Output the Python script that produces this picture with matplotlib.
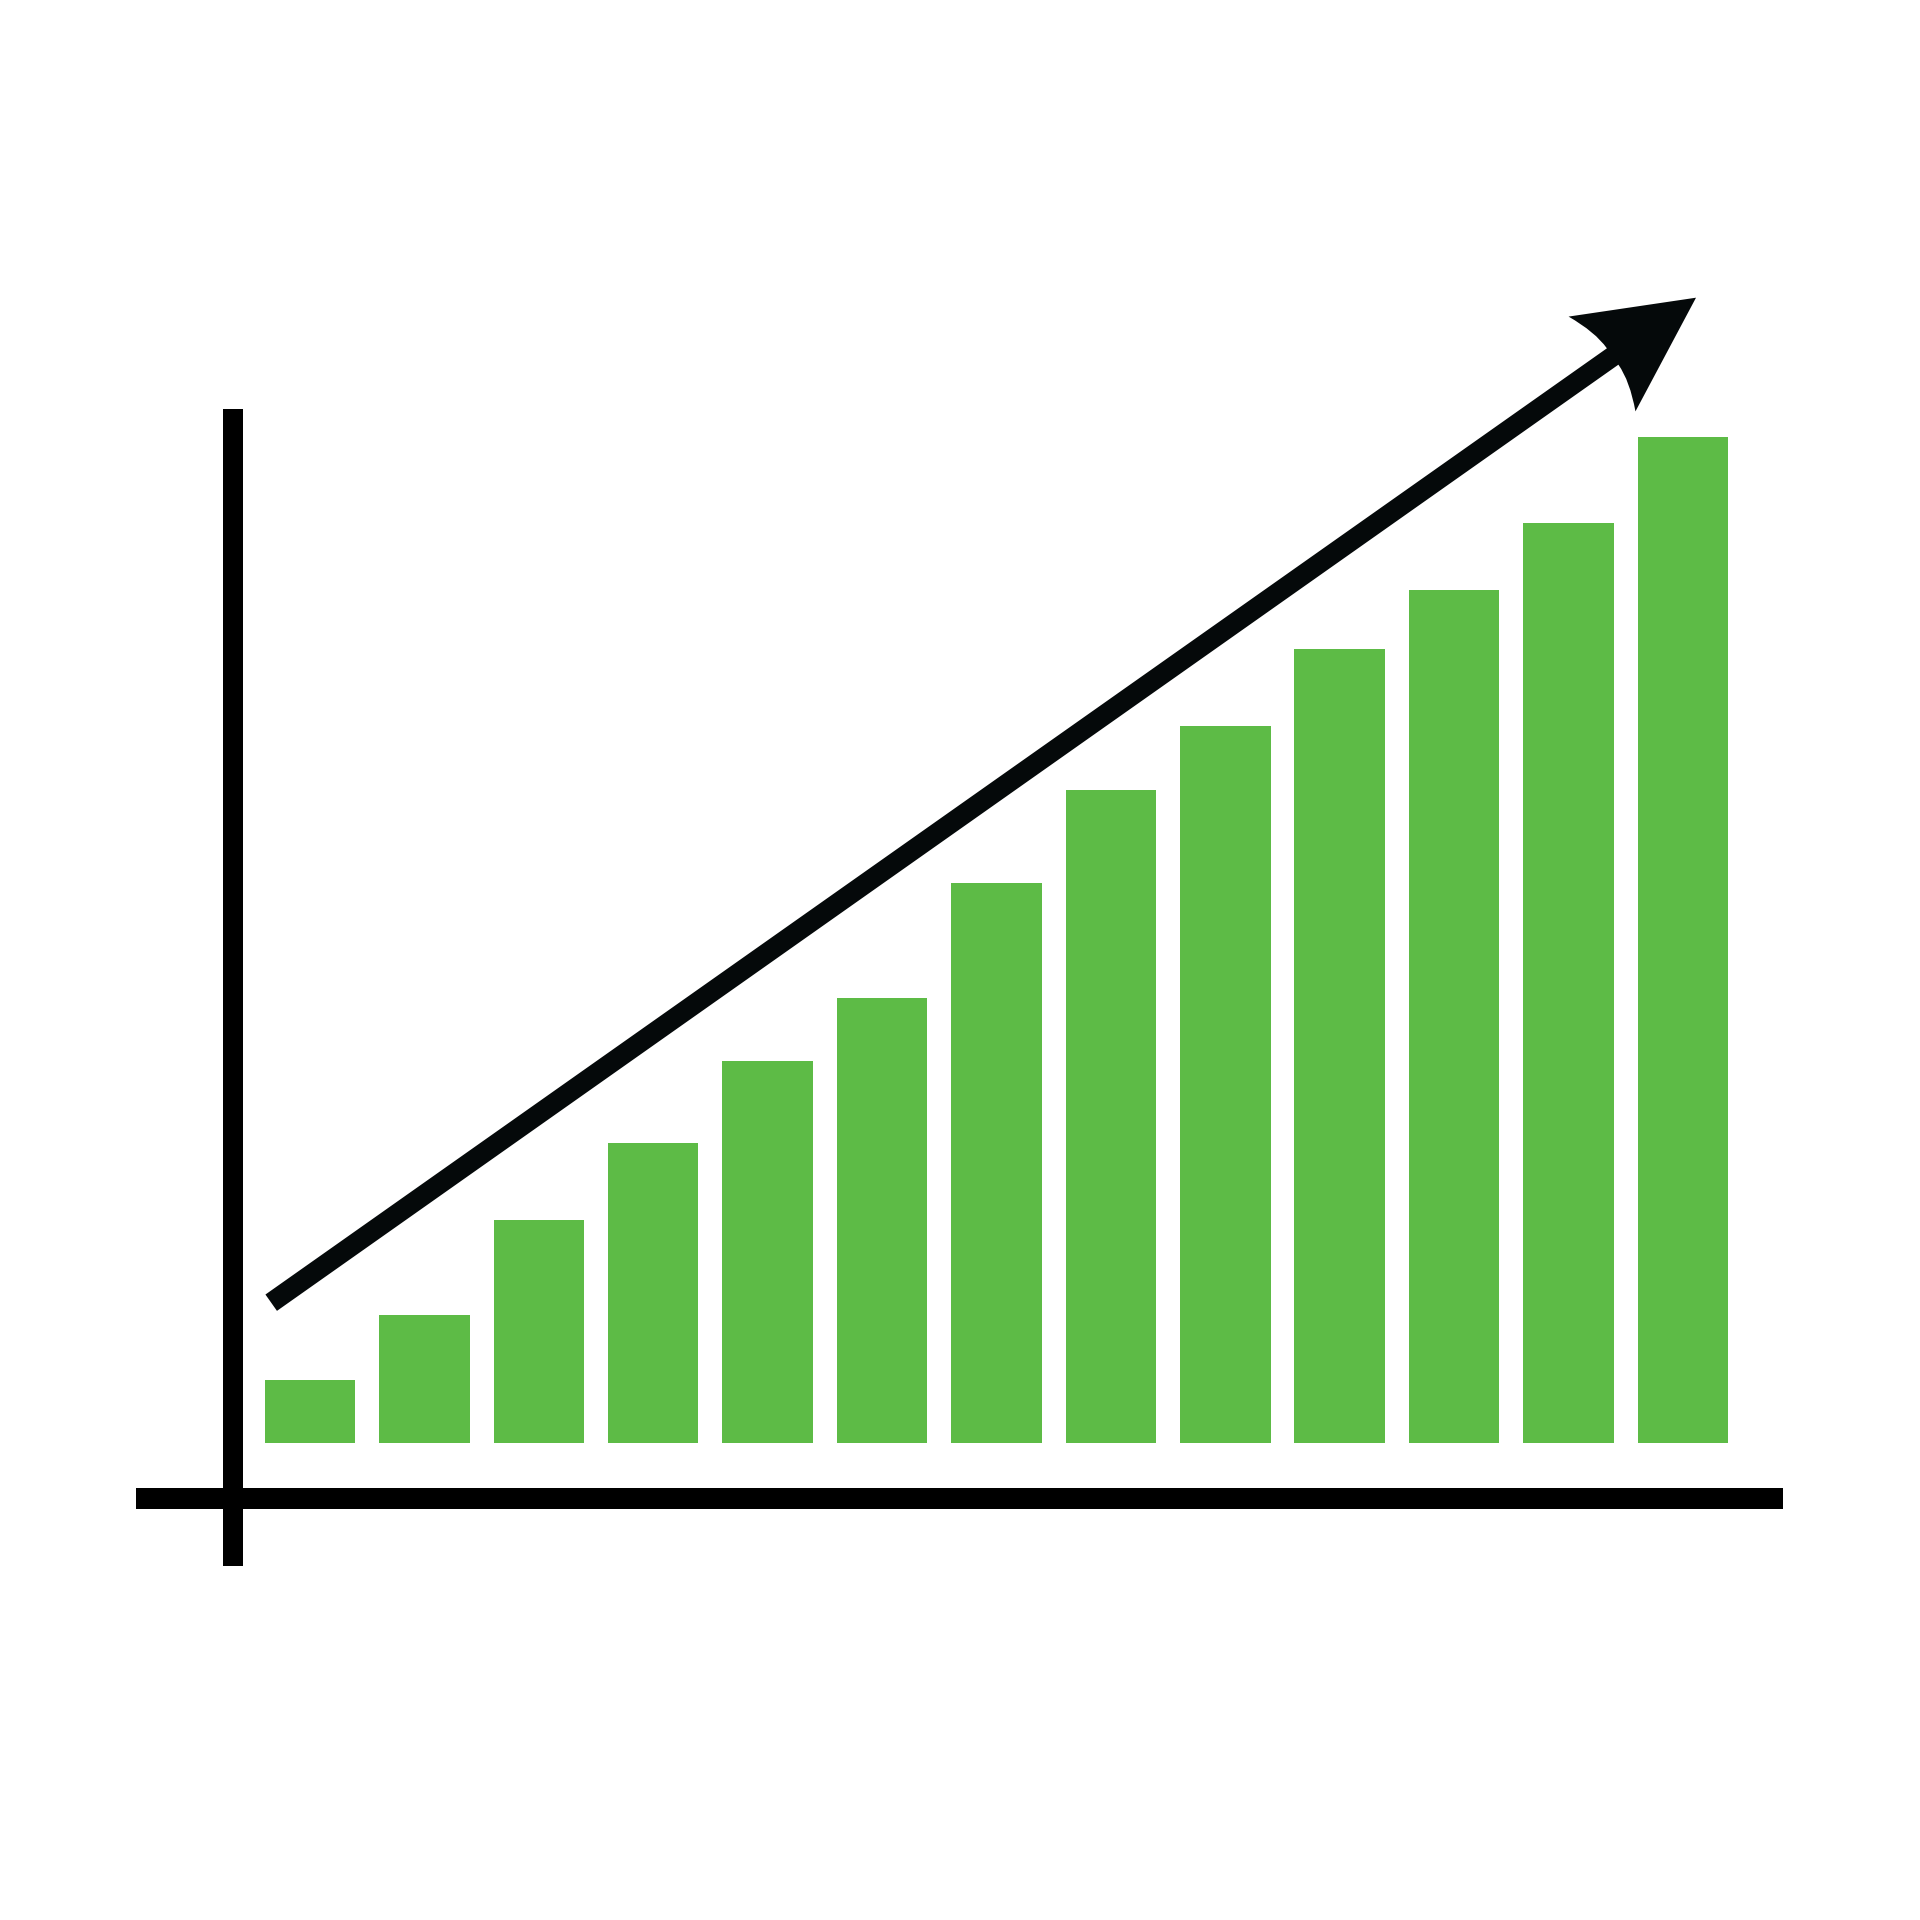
import numpy as np
import matplotlib.pyplot as plt
from matplotlib.patches import Rectangle, PathPatch
from matplotlib.path import Path

# bar heights (arbitrary units), left to right
periods = list(range(1, 14))
values = [6.3, 12.8, 22.3, 30.0, 38.2, 44.5, 56.0, 65.3, 71.7, 79.4, 85.3, 92.0, 100.6]

GREEN = '#5dbb46'
ARROW = '#05090a'
W = H = 1920

fig = plt.figure(figsize=(19.2, 19.2), dpi=100)
fig.patch.set_facecolor('white')

# bars axes, placed in figure pixel space
left, right, base, top = 252.7, 1740.2, 1443.3, 400.0
ax = fig.add_axes([left / W, (H - base) / H, (right - left) / W, (base - top) / H])
ax.bar(np.arange(len(values)), values, width=0.791, color=GREEN, linewidth=0)
ax.set_xlim(-0.5, len(values) - 0.5)
ax.set_ylim(0, (base - top) / 10)
ax.axis('off')

# decoration layer in pixel coords (y down)
deco = fig.add_axes([0, 0, 1, 1], zorder=3)
deco.set_xlim(0, W)
deco.set_ylim(H, 0)
deco.axis('off')
deco.patch.set_alpha(0)

# the cross of axis lines
deco.add_patch(Rectangle((222.7, 409), 20.5, 1566 - 409, color='black', lw=0))
deco.add_patch(Rectangle((136, 1488), 1783.3 - 136, 21, color='black', lw=0))

# trend arrow
tail = np.array([271.2, 1302.7])
tip = np.array([1696.0, 297.7])
d = (tip - tail) / np.linalg.norm(tip - tail)
n = np.array([-d[1], d[0]])
L = np.linalg.norm(tip - tail)
hw = 10.0           # half shaft width
head_len, head_hw = 115.0, 58.0
junc = 102.0


def pt(u, v):
    return tip + u * d + v * n


verts = [pt(-L, -hw), pt(-junc, -hw), pt(-102, -30), pt(-head_len, -head_hw),
         pt(0, 0),
         pt(-head_len, head_hw), pt(-102, 30), pt(-junc, hw),
         pt(-L, hw), pt(-L, -hw)]
codes = [Path.MOVETO, Path.LINETO, Path.CURVE3, Path.CURVE3,
         Path.LINETO,
         Path.LINETO, Path.CURVE3, Path.CURVE3,
         Path.LINETO, Path.CLOSEPOLY]
deco.add_patch(PathPatch(Path(verts, codes), facecolor=ARROW, edgecolor='none'))

fig.savefig('out.png', dpi=100, facecolor='white')
